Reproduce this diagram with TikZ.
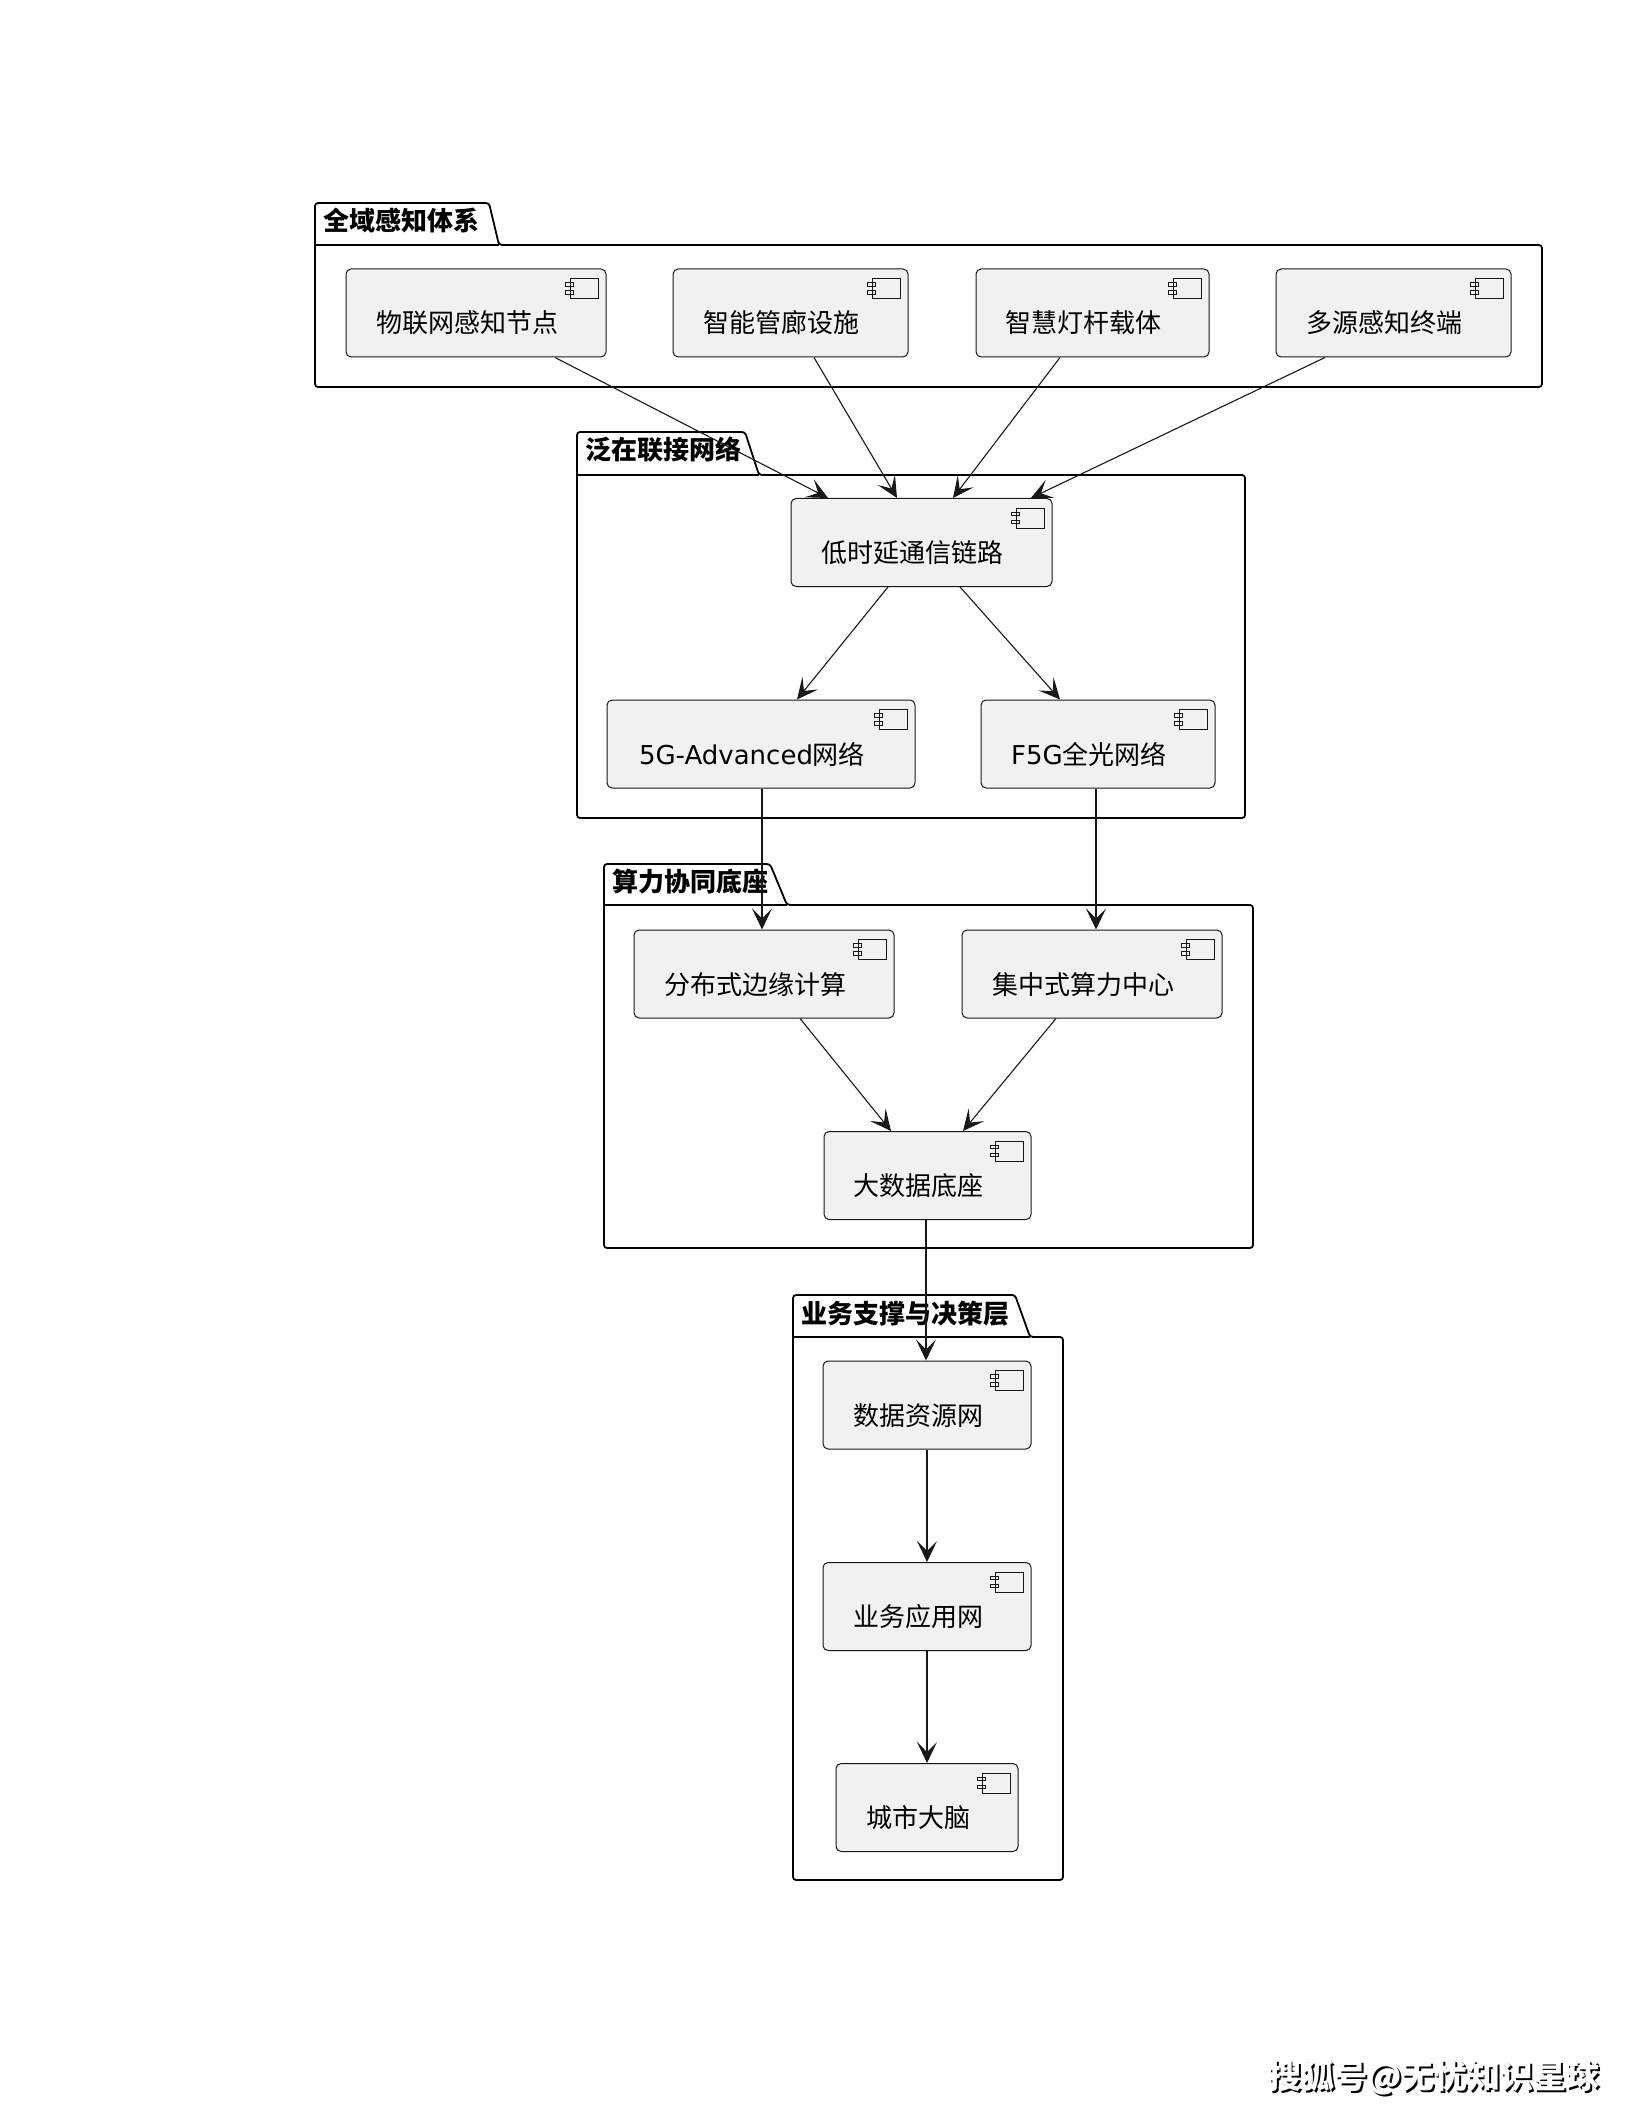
\documentclass[tikz,border=0pt]{standalone}
\usepackage{fontspec}
\setmainfont{Noto Sans CJK SC}
\newfontfamily\latinfont{DejaVu Sans}
\usetikzlibrary{arrows.meta,calc}
\definecolor{nodefill}{HTML}{F1F1F1}
\definecolor{linec}{HTML}{181818}
\newcommand\compicon[1]{%
  \draw[linec, line width=0.45pt, fill=nodefill, shift={(#1.north east)}]
    (-36,10) rectangle (-8,30)
    (-41,14) rectangle (-33,17.5)
    (-41,22) rectangle (-33,25.5);}
\begin{document}
\begin{tikzpicture}[x=0.5pt,y=-0.5pt,
  comp/.style={draw=linec, line width=0.5pt, fill=nodefill, rounded corners=2.5pt,
    font=\fontsize{13pt}{15pt}\selectfont, text=black, inner sep=0pt,
    text height=20pt, text depth=0pt, minimum height=44pt,
    execute at end node={\hspace{9pt}}},
  pkg/.style={draw=black, line width=0.9pt, rounded corners=1.5pt},
  pkgtitle/.style={font=\fontsize{13pt}{15pt}\selectfont\bfseries, text=black, inner sep=0pt, anchor=base west},
  edge/.style={draw=linec, line width=0.55pt, -{Stealth[length=10.5pt, width=10pt, inset=5pt]}}
]
\fill[white] (0,0) rectangle (1632,2112);
\useasboundingbox (0,0) rectangle (1632,2112);

% ---- packages ----
\draw[pkg] (315,387) -- (315,203) -- (489,203) -- (499,245) -- (1542,245) -- (1542,387) -- cycle;
\draw[pkg] (315,245) -- (499,245);
\node[pkgtitle] (p1) at (323,231) {全域感知体系};

\draw[pkg] (577,818) -- (577,432) -- (745,432) -- (759,475) -- (1245,475) -- (1245,818) -- cycle;
\draw[pkg] (577,475) -- (759,475);
\node[pkgtitle] (p2) at (585,460) {泛在联接网络};

\draw[pkg] (604,1248) -- (604,864) -- (770,864) -- (787,905) -- (1253,905) -- (1253,1248) -- cycle;
\draw[pkg] (604,905) -- (787,905);
\node[pkgtitle] (p3) at (612,891) {算力协同底座};

\draw[pkg] (793,1880) -- (793,1295) -- (1015,1295) -- (1030,1337) -- (1063,1337) -- (1063,1880) -- cycle;
\draw[pkg] (793,1337) -- (1030,1337);
\node[pkgtitle] (p4) at (801,1323) {业务支撑与决策层};

% ---- components ----
\node[comp, minimum width=130pt] (iot)  at (476,313) {物联网感知节点};
\node[comp, minimum width=117.5pt] (pipe) at (790.5,313) {智能管廊设施};
\node[comp, minimum width=116.5pt] (lamp) at (1092.5,313) {智慧灯杆载体};
\node[comp, minimum width=117.5pt] (term) at (1393.5,313) {多源感知终端};

\node[comp, minimum width=130.5pt] (link) at (921.5,542.5) {低时延通信链路};
\node[comp, minimum width=154pt] (fiveg) at (761,744) {{\latinfont 5G-Advanced}网络};
\node[comp, minimum width=117pt] (f5g) at (1098,744) {{\latinfont F5G}全光网络};

\node[comp, minimum width=130pt] (edgec) at (764,974) {分布式边缘计算};
\node[comp, minimum width=130pt] (center) at (1092,974) {集中式算力中心};
\node[comp, minimum width=103.5pt] (bigdata) at (927.5,1175.5) {大数据底座};

\node[comp, minimum width=104pt] (datares) at (927,1405) {数据资源网};
\node[comp, minimum width=104pt] (bizapp) at (927,1606.5) {业务应用网};
\node[comp, minimum width=91pt] (brain) at (927,1807.5) {城市大脑};

\foreach \n in {iot,pipe,lamp,term,link,fiveg,f5g,edgec,center,bigdata,datares,bizapp,brain}{\compicon{\n}}

% ---- connectors ----
\draw[edge] (iot.south -| 555,0) -- (link.north -| 828,0);
\draw[edge] (pipe.south -| 814,0) -- (link.north -| 897,0);
\draw[edge] (lamp.south -| 1060,0) -- (link.north -| 953,0);
\draw[edge] (term.south -| 1325,0) -- (link.north -| 1031,0);

\draw[edge] (link.south -| 888,0) -- (fiveg.north -| 797,0);
\draw[edge] (link.south -| 960,0) -- (f5g.north -| 1060,0);

\draw[edge] (fiveg.south -| 762,0) -- (edgec.north -| 762,0);
\draw[edge] (f5g.south -| 1096,0) -- (center.north -| 1096,0);

\draw[edge] (edgec.south -| 800,0) -- (bigdata.north -| 891,0);
\draw[edge] (center.south -| 1056,0) -- (bigdata.north -| 963,0);

\draw[edge] (bigdata.south -| 926,0) -- (datares.north -| 926,0);
\draw[edge] (datares.south -| 927,0) -- (bizapp.north -| 927,0);
\draw[edge] (bizapp.south -| 927,0) -- (brain.north -| 927,0);

% ---- footer ----
\node[font=\fontsize{16.5pt}{18pt}\selectfont\bfseries, text=black, inner sep=0pt] (footshadow) at (1436,2079) {搜狐号@无忧知识星球};
\node[font=\fontsize{16.5pt}{18pt}\selectfont\bfseries, text=white, inner sep=0pt] (footer) at (1434,2077) {搜狐号@无忧知识星球};
\end{tikzpicture}
\end{document}
